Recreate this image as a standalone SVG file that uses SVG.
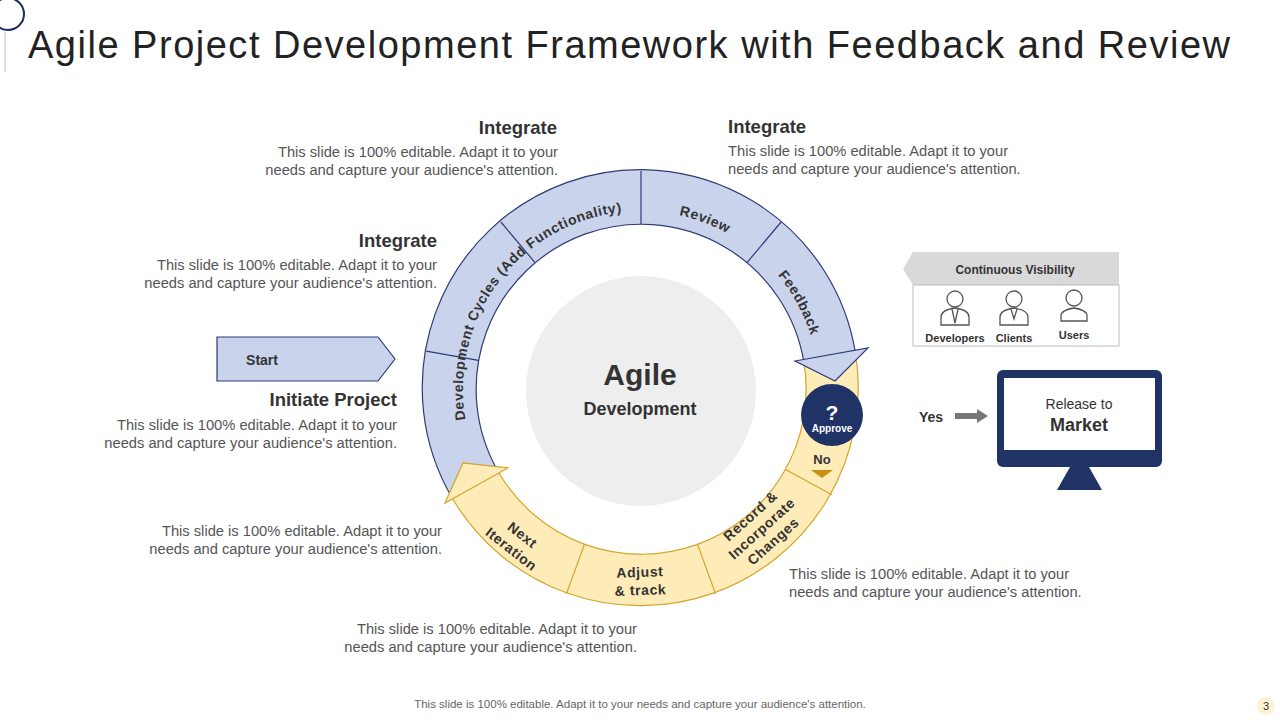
<svg xmlns="http://www.w3.org/2000/svg" width="1280" height="720" viewBox="0 0 1280 720">
<style>
text{font-family:"Liberation Sans",Arial,sans-serif}
.h{font-size:18.5px;font-weight:bold;fill:#333}
.b{font-size:14.7px;fill:#555}
.seg{font-size:14px;font-weight:bold;fill:#333;letter-spacing:0.6px}
.blue{fill:#c9d3ec;stroke:#2e3b78;stroke-width:1.2}
.yel{fill:#fdebb8;stroke:#d4a52a;stroke-width:1.2}
.dv{stroke:#2e3b78;stroke-width:1.2}
.dy{stroke:#d4a52a;stroke-width:1.2}
.ic{fill:#fff;stroke:#555;stroke-width:1.3}
.lb{font-size:11px;font-weight:bold;fill:#333;text-anchor:middle}
</style>
<defs>
<path id="arc" d="M504.6,503.4 A178,178 0 1 1 819,389"/>
</defs>
<rect width="1280" height="720" fill="#fff"/>
<circle cx="8" cy="14" r="16" fill="none" stroke="#1f2d5c" stroke-width="2"/>
<line x1="5" y1="32" x2="5" y2="72" stroke="#bbb" stroke-width="1"/>
<text x="28" y="58" font-size="38" fill="#222" textLength="1202" lengthAdjust="spacing">Agile Project Development Framework with Feedback and Review</text>

<g id="center">
<circle cx="641" cy="391" r="115" fill="#eeeeee"/>
<text x="640" y="385" text-anchor="middle" font-size="30" font-weight="bold" fill="#333">Agile</text>
<text x="640" y="415" text-anchor="middle" font-size="18" font-weight="bold" fill="#333">Development</text>
</g>

<g id="ring-blue">
<path class="blue" d="M452.2,498 A218,218 0 1 1 855.7,354.5 L803.9,362.1 A165,165 0 1 0 498.1,471.5 Z"/>
<line class="dv" x1="426.3" y1="351.1" x2="478.5" y2="360.3"/>
<line class="dv" x1="500.9" y1="222" x2="535" y2="262.6"/>
<line class="dv" x1="641" y1="171" x2="641" y2="224"/>
<line class="dv" x1="781.1" y1="222" x2="747" y2="262.6"/>
<text class="seg"><textPath href="#arc" startOffset="35%" text-anchor="middle">Development Cycles (Add Functionality)</textPath></text>
<text class="seg"><textPath href="#arc" startOffset="68.5%" text-anchor="middle">Review</textPath></text>
<text class="seg"><textPath href="#arc" startOffset="87%" text-anchor="middle">Feedback</textPath></text>
</g>

<g id="ring-yellow">
<path class="yel" d="M855.7,354.5 A218,218 0 0 1 452.2,498 L498.1,471.5 A165,165 0 0 0 803.9,362.1 Z"/>
<line class="dy" x1="831.9" y1="494.8" x2="785.6" y2="469.5"/>
<line class="dy" x1="715.6" y1="593.9" x2="697.4" y2="544"/>
<line class="dy" x1="566.4" y1="593.9" x2="584.6" y2="544"/>
<polygon class="yel" points="445,503 463,463 508,468"/>
<polygon class="blue" points="795,361 868,348 835,381"/>
<text class="seg" transform="translate(517,542) rotate(38)" text-anchor="middle"><tspan x="0" y="-4">Next</tspan><tspan x="0" y="14">Iteration</tspan></text>
<text class="seg" text-anchor="middle" transform="translate(640,577) rotate(-2)"><tspan x="0" y="0">Adjust</tspan><tspan x="0" y="18">&amp; track</tspan></text>
<text class="seg" transform="translate(763,530) rotate(-42)" text-anchor="middle"><tspan x="0" y="-14">Record &amp;</tspan><tspan x="0" y="3">Incorporate</tspan><tspan x="0" y="20">Changes</tspan></text>
</g>

<g id="approve">
<circle cx="832" cy="415" r="31" fill="#1f3366"/>
<text x="832" y="420" text-anchor="middle" font-size="21" font-weight="bold" fill="#fff">?</text>
<text x="832" y="432" text-anchor="middle" font-size="10" font-weight="bold" fill="#fff">Approve</text>
<text x="822" y="464" text-anchor="middle" font-size="13" font-weight="bold" fill="#333">No</text>
<polygon points="811,470 833,470 822,478" fill="#c8900e"/>
</g>

<g id="start">
<polygon class="blue" points="217,337 378,337 395,359 378,381 217,381"/>
<text x="262" y="365" text-anchor="middle" font-size="14" font-weight="bold" fill="#333">Start</text>
</g>

<g id="visibility">
<polygon points="903,269 913,252 1119,252 1119,285 913,285" fill="#d9d9d9"/>
<rect x="913" y="285" width="206" height="61" fill="#fff" stroke="#bbb"/>
<text x="1015" y="274" text-anchor="middle" font-size="12" font-weight="bold" fill="#333">Continuous Visibility</text>
<g class="ic">
<path d="M941,325 v-8 q0,-7 14,-9 q14,2 14,9 v8 z"/><circle cx="955" cy="299" r="8"/><path d="M952,309 l3,14 l3,-14"/>
<path d="M1000,325 v-8 q0,-7 14,-9 q14,2 14,9 v8 z"/><circle cx="1014" cy="299" r="8"/><path d="M1011,309 l3,10 l3,-10"/>
<path d="M1061,321 v-5 q0,-6 13,-8 q13,2 13,8 v5 z"/><circle cx="1074" cy="298" r="8"/>
</g>
<text class="lb" x="955" y="342">Developers</text>
<text class="lb" x="1014" y="342">Clients</text>
<text class="lb" x="1074" y="339">Users</text>
</g>

<g id="market">
<rect x="997" y="370" width="165" height="97" rx="6" fill="#1f3366"/>
<rect x="1004" y="378" width="151" height="72" fill="#fff"/>
<polygon points="1070,467 1089,467 1102,490 1057,490" fill="#1f3366"/>
<text x="1079" y="409" text-anchor="middle" font-size="14" fill="#333">Release to</text>
<text x="1079" y="431" text-anchor="middle" font-size="18" font-weight="bold" fill="#333">Market</text>
<text x="931" y="422" text-anchor="middle" font-size="14" font-weight="bold" fill="#333">Yes</text>
</g>

<g id="connectors">
<polygon points="955,413 977,413 977,409 988,416 977,423 977,419 955,419" fill="#777"/>
</g>

<g id="texts">
<text class="h" x="557" y="134" text-anchor="end">Integrate</text>
<text class="b" text-anchor="end"><tspan x="558" y="157">This slide is 100% editable. Adapt it to your</tspan><tspan x="558" y="175">needs and capture your audience's attention.</tspan></text>
<text class="h" x="728" y="133">Integrate</text>
<text class="b"><tspan x="728" y="156">This slide is 100% editable. Adapt it to your</tspan><tspan x="728" y="174">needs and capture your audience's attention.</tspan></text>
<text class="h" x="437" y="247" text-anchor="end">Integrate</text>
<text class="b" text-anchor="end"><tspan x="437" y="270">This slide is 100% editable. Adapt it to your</tspan><tspan x="437" y="288">needs and capture your audience's attention.</tspan></text>
<text class="h" x="397" y="406" text-anchor="end">Initiate Project</text>
<text class="b" text-anchor="end"><tspan x="397" y="430">This slide is 100% editable. Adapt it to your</tspan><tspan x="397" y="448">needs and capture your audience's attention.</tspan></text>
<text class="b" text-anchor="end"><tspan x="442" y="536">This slide is 100% editable. Adapt it to your</tspan><tspan x="442" y="554">needs and capture your audience's attention.</tspan></text>
<text class="b" text-anchor="end"><tspan x="637" y="634">This slide is 100% editable. Adapt it to your</tspan><tspan x="637" y="652">needs and capture your audience's attention.</tspan></text>
<text class="b"><tspan x="789" y="579">This slide is 100% editable. Adapt it to your</tspan><tspan x="789" y="597">needs and capture your audience's attention.</tspan></text>
<text x="640" y="708" text-anchor="middle" font-size="11.5" fill="#666">This slide is 100% editable. Adapt it to your needs and capture your audience's attention.</text>
<circle cx="1266" cy="706" r="9" fill="#fff3d6"/>
<text x="1266" y="710" text-anchor="middle" font-size="11" fill="#333">3</text>
</g>
</svg>
